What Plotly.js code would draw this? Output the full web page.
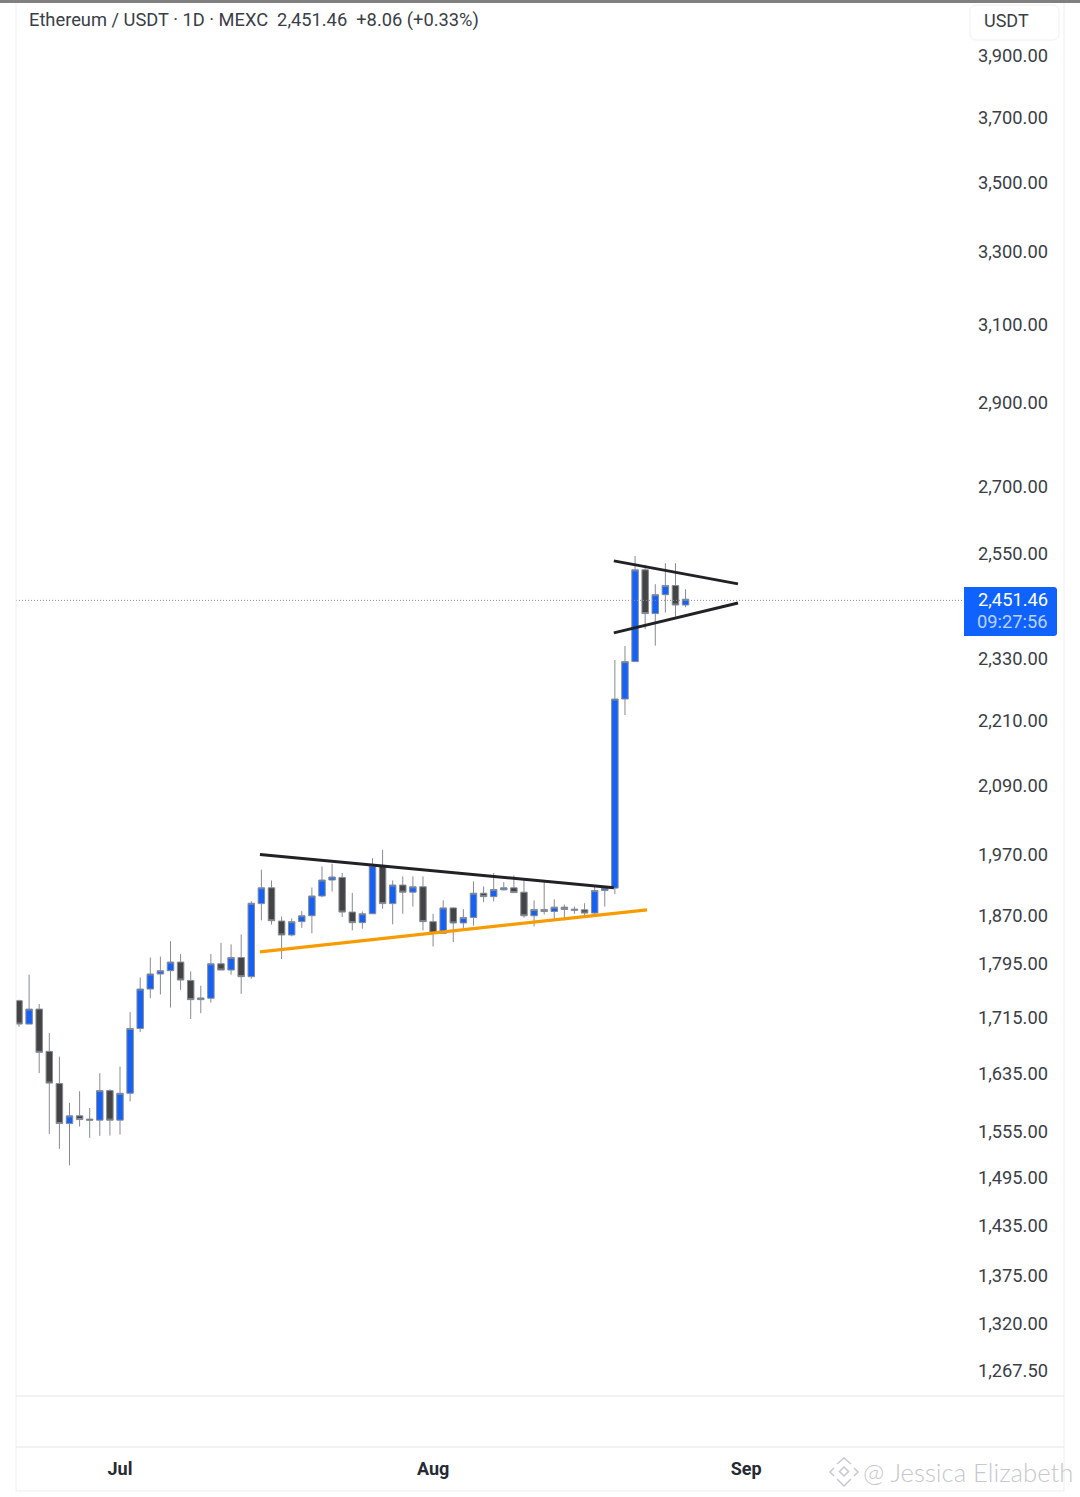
<!DOCTYPE html>
<html>
<head>
<meta charset="utf-8">
<script src="https://cdn.plot.ly/plotly-3.0.1.min.js"></script>
<style>html,body{margin:0;padding:0;background:#fff}#chart{width:1080px;height:1497px}</style>
</head>
<body>
<div id="chart"></div>
<script>
const dates = ["2023-06-21","2023-06-22","2023-06-23","2023-06-24","2023-06-25","2023-06-26","2023-06-27","2023-06-28","2023-06-29","2023-06-30",
"2023-07-01","2023-07-02","2023-07-03","2023-07-04","2023-07-05","2023-07-06","2023-07-07","2023-07-08","2023-07-09","2023-07-10",
"2023-07-11","2023-07-12","2023-07-13","2023-07-14","2023-07-15","2023-07-16","2023-07-17","2023-07-18","2023-07-19","2023-07-20",
"2023-07-21","2023-07-22","2023-07-23","2023-07-24","2023-07-25","2023-07-26","2023-07-27","2023-07-28","2023-07-29","2023-07-30",
"2023-07-31","2023-08-01","2023-08-02","2023-08-03","2023-08-04","2023-08-05","2023-08-06","2023-08-07","2023-08-08","2023-08-09",
"2023-08-10","2023-08-11","2023-08-12","2023-08-13","2023-08-14","2023-08-15","2023-08-16","2023-08-17","2023-08-18","2023-08-19",
"2023-08-20","2023-08-21","2023-08-22","2023-08-23","2023-08-24","2023-08-25","2023-08-26"];
const opens = [1739.5,1705,1727,1665.7,1620.5,1566,1576.4,1572,1570.6,1610.8,1570.6,1607.1,1698.6,1756.8,1779.6,1784.6,1797.8,1769.8,1741,1743,
1795.2,1785.6,1804.8,1775.5,1889.9,1915.6,1862,1839.9,1861,1870.4,1902.3,1928.4,1932.7,1876.3,1859.4,1873.6,1952.6,1889.9,1920.1,1908.5,
1917.3,1861,1842.5,1883,1858.9,1867.7,1906.8,1901.2,1912.3,1915.6,1908.5,1870.4,1880.4,1877.2,1884.2,1881,1879.9,1874.7,1911.1,1915.1,
2251,2324.2,2513.9,2421.6,2461,2480.3,2439.4];
const highs = [1741,1778.5,1734.6,1691.9,1658.2,1594.2,1609.9,1587,1635,1612.7,1644.3,1722.5,1774.4,1804.8,1806.3,1830.2,1810.4,1783.5,1761.8,1810.4,
1827.6,1825.2,1840.8,1894,1945.5,1927.7,1869.3,1866.2,1877.8,1916.1,1951,1955.5,1940,1907.3,1877.2,1964.9,1978.7,1927.7,1934.4,1934.4,
1934.4,1873.6,1895.2,1883.5,1881,1926.1,1917.8,1940,1925.1,1936,1928.9,1895.2,1925.1,1896.9,1888.3,1885.1,1890.5,1917.8,1917.8,2327.5,
2355.4,2543.9,2524.6,2483.3,2528.2,2528.2,2472.6];
const lows = [1701,1705,1635,1552.2,1532.5,1511,1562,1546.9,1549.6,1550,1551.3,1596,1693.3,1743,1748.6,1729.3,1755.7,1712.3,1721,1736.6,
1785.6,1778.5,1749.6,1772.4,1863,1856.2,1802.5,1837.7,1851,1842.5,1900.2,1909.5,1868.4,1847.2,1849.9,1873.6,1881.5,1856.7,1873.6,1885.1,
1847.2,1821.9,1842.5,1828.9,1847.2,1854.6,1892.1,1893.6,1911.1,1907.8,1867.3,1853.5,1872.5,1864.1,1863,1873.6,1868.4,1868.4,1885.1,1905.2,
2220.6,2324.2,2389.6,2356,2423.7,2415.5,2434.7];
const closes = [1705,1727,1664.3,1621.1,1566,1576.4,1571.4,1570.6,1610.8,1570.6,1607.1,1698.6,1756.8,1779.6,1784.6,1797.8,1770.4,1741,1743.5,1795.2,
1785.6,1804.8,1775.5,1890.5,1915.6,1862.5,1839.9,1861,1870.4,1902.3,1928.4,1933.4,1876.3,1859.4,1873.6,1952.6,1889.9,1920.1,1908.5,1917.3,
1861,1842.5,1883,1858.9,1867.7,1906.8,1901.2,1912.8,1915.6,1907.8,1870.4,1880.4,1877.2,1884.2,1880.4,1879.4,1874.7,1911.1,1915.1,2251,
2324.2,2513.9,2421.6,2461,2480.3,2439.4,2451.46];

const priceTicks = [3900,3700,3500,3300,3100,2900,2700,2550,2330,2210,2090,1970,1870,1795,1715,1635,1555,1495,1435,1375,1320,1267.5];
const priceLabels = ["3,900.00","3,700.00","3,500.00","3,300.00","3,100.00","2,900.00","2,700.00","2,550.00","2,330.00","2,210.00","2,090.00","1,970.00","1,870.00","1,795.00","1,715.00","1,635.00","1,555.00","1,495.00","1,435.00","1,375.00","1,320.00","1,267.50"];
const monthTicks = ["2023-07-01","2023-08-01","2023-09-01"];
const monthLabels = ["Jul","Aug","Sep"];

const resistX = ["2023-07-14 20:38","2023-08-18 21:36"];
const resistY = [1971,1915.6];
const supportX = ["2023-07-14 20:38","2023-08-22 04:19"];
const supportY = [1813.5,1879.9];
const pennantTopX = ["2023-08-18 21:36","2023-08-31 04:34"];
const pennantTopY = [2533.2,2483.9];
const pennantLowX = ["2023-08-18 21:36","2023-08-31 04:34"];
const pennantLowY = [2382,2443.6];
const lastX = ["2023-06-20 16:52","2023-09-22 13:26"];
const lastY = [2449,2449];

const W=1080,H=1497,L=16,R=16,T=3,B=50,PW=W-L-R,PH=H-T-B;
const px=x=>(x-L)/PW, py=y=>1-(y-T)/PH;
const C={blue:"#1561f5",dark:"#444444",wick:"#858b96",txt:"#3a3e47",rule:"#ececec"};

function seg(x0,y0,x1,y1,color,w){return {type:"line",xref:"paper",yref:"paper",x0:px(x0),y0:py(y0),x1:px(x1),y1:py(y1),line:{color:color,width:w},layer:"above"};}
function rectp(x0,y0,x1,y1,color){return {type:"rect",xref:"paper",yref:"paper",x0:px(x0),y0:py(y0),x1:px(x1),y1:py(y1),fillcolor:color,line:{width:0},layer:"above"};}
function pathp(pts,close,fill,stroke,w){
  let d=pts.map((p,i)=>(i?"L":"M")+px(p[0])+","+py(p[1])).join(" ")+(close?" Z":"");
  return {type:"path",xref:"paper",yref:"paper",path:d,fillcolor:fill,line:{color:stroke,width:w},layer:"above"};
}
function rrect(x0,y0,x1,y1,r,fill,stroke,w){
  const pts=[];const n=5;
  const corner=(cx,cy,a0)=>{for(let i=0;i<=n;i++){const a=a0+i/n*Math.PI/2;pts.push([cx+r*Math.cos(a),cy+r*Math.sin(a)]);}};
  corner(x1-r,y0+r,-Math.PI/2);corner(x1-r,y1-r,0);corner(x0+r,y1-r,Math.PI/2);corner(x0+r,y0+r,Math.PI);
  return pathp(pts,true,fill,stroke,w);
}
function label(x,y,text,size,color,anchor,extra){
  return Object.assign({xref:"paper",yref:"paper",x:px(x),y:py(y),text:text,showarrow:false,xanchor:anchor||"left",yanchor:"middle",
    font:{family:"Roboto, sans-serif",size:size,color:color},borderpad:0,align:"left"},extra||{});
}
const wm="#c6c8cb";
const shapes=[
  rectp(0,0,1080,3,"#808080"),
  seg(16,3,16,1491,"#f0f0f0",1),
  seg(1064,3,1064,1491,"#eeeeee",1),
  seg(16,1396,1064,1396,"#e6e6e6",1),
  seg(16,1447,1064,1447,"#e6e6e6",1),
  seg(16,1491,1064,1491,"#eeeeee",1),
  rrect(970,5,1059,40,6,"rgba(255,255,255,0)","#f0f0f0",1),
  rrect(964,587,1057,636,3,"#0f62fe","#0f62fe",0),
  rectp(964,587,970,636,"#0f62fe"),
  pathp([[844,1467],[848.5,1471.5],[844,1476],[839.5,1471.5]],true,"rgba(255,255,255,0)",wm,1.5),
  pathp([[837,1464],[844,1458],[851,1464]],false,"rgba(255,255,255,0)",wm,1.5),
  pathp([[837,1479],[844,1486],[851,1479]],false,"rgba(255,255,255,0)",wm,1.5),
  pathp([[834,1468],[830,1472],[834,1476]],false,"rgba(255,255,255,0)",wm,1.5),
  pathp([[854,1468],[858,1472],[854,1476]],false,"rgba(255,255,255,0)",wm,1.5)
];
const annotations=[
  label(27.5,20,"Ethereum / USDT · 1D · MEXC  2,451.46  +8.06 (+0.33%)",18.3,C.txt,"left"),
  label(1006,21,"USDT",18,C.txt,"center"),
  label(1048.5,599.5,"2,451.46",18.3,"#ffffff","right"),
  label(1048.5,621,"09:27:56",18.3,"#bcd2ff","right"),
  label(862,1472,"@ Jessica Elizabeth",25.5,wm,"left",{font:{family:"Lato, sans-serif",size:25.7,color:wm,weight:300}})
];
const traces=[
  {type:"scatter",mode:"lines",x:lastX,y:lastY,line:{color:"#8a8f98",width:1,dash:"1px 2px"},hoverinfo:"skip",showlegend:false},
  {type:"candlestick",x:dates,open:opens,high:highs,low:lows,close:closes,whiskerwidth:0,
   increasing:{line:{color:C.wick,width:1},fillcolor:C.blue},
   decreasing:{line:{color:C.wick,width:1},fillcolor:C.dark},
   hoverinfo:"skip",showlegend:false},
  {type:"scatter",mode:"lines",x:resistX,y:resistY,line:{color:"#222226",width:3},hoverinfo:"skip",showlegend:false},
  {type:"scatter",mode:"lines",x:supportX,y:supportY,line:{color:"#f79c00",width:3.2},hoverinfo:"skip",showlegend:false},
  {type:"scatter",mode:"lines",x:pennantTopX,y:pennantTopY,line:{color:"#222226",width:3},hoverinfo:"skip",showlegend:false},
  {type:"scatter",mode:"lines",x:pennantLowX,y:pennantLowY,line:{color:"#222226",width:3},hoverinfo:"skip",showlegend:false}
];
const layout={
  width:W,height:H,margin:{l:L,r:R,t:T,b:B,pad:0},paper_bgcolor:"#ffffff",plot_bgcolor:"#ffffff",showlegend:false,dragmode:false,
  font:{family:"Roboto, sans-serif"},boxgap:0.2,boxgroupgap:0.2,
  xaxis:{type:"date",range:["2023-06-20 16:52","2023-10-02 11:17"],rangeslider:{visible:false},showgrid:false,zeroline:false,showline:false,
    tickmode:"array",tickvals:monthTicks,ticktext:monthLabels,ticks:"",ticklabelstandoff:9,
    tickfont:{family:"Roboto, sans-serif",size:18,color:"#262a33",weight:700}},
  yaxis:{type:"log",side:"right",range:[3.07474,3.61074],showgrid:false,zeroline:false,showline:false,
    tickmode:"array",tickvals:priceTicks,ticktext:priceLabels,ticks:"",ticklabelposition:"inside",ticklabelstandoff:13,
    tickfont:{family:"Roboto, sans-serif",size:18.3,color:C.txt}},
  shapes:shapes,annotations:annotations
};
Plotly.newPlot("chart",traces,layout,{displayModeBar:false,staticPlot:true});
</script>
</body>
</html>
